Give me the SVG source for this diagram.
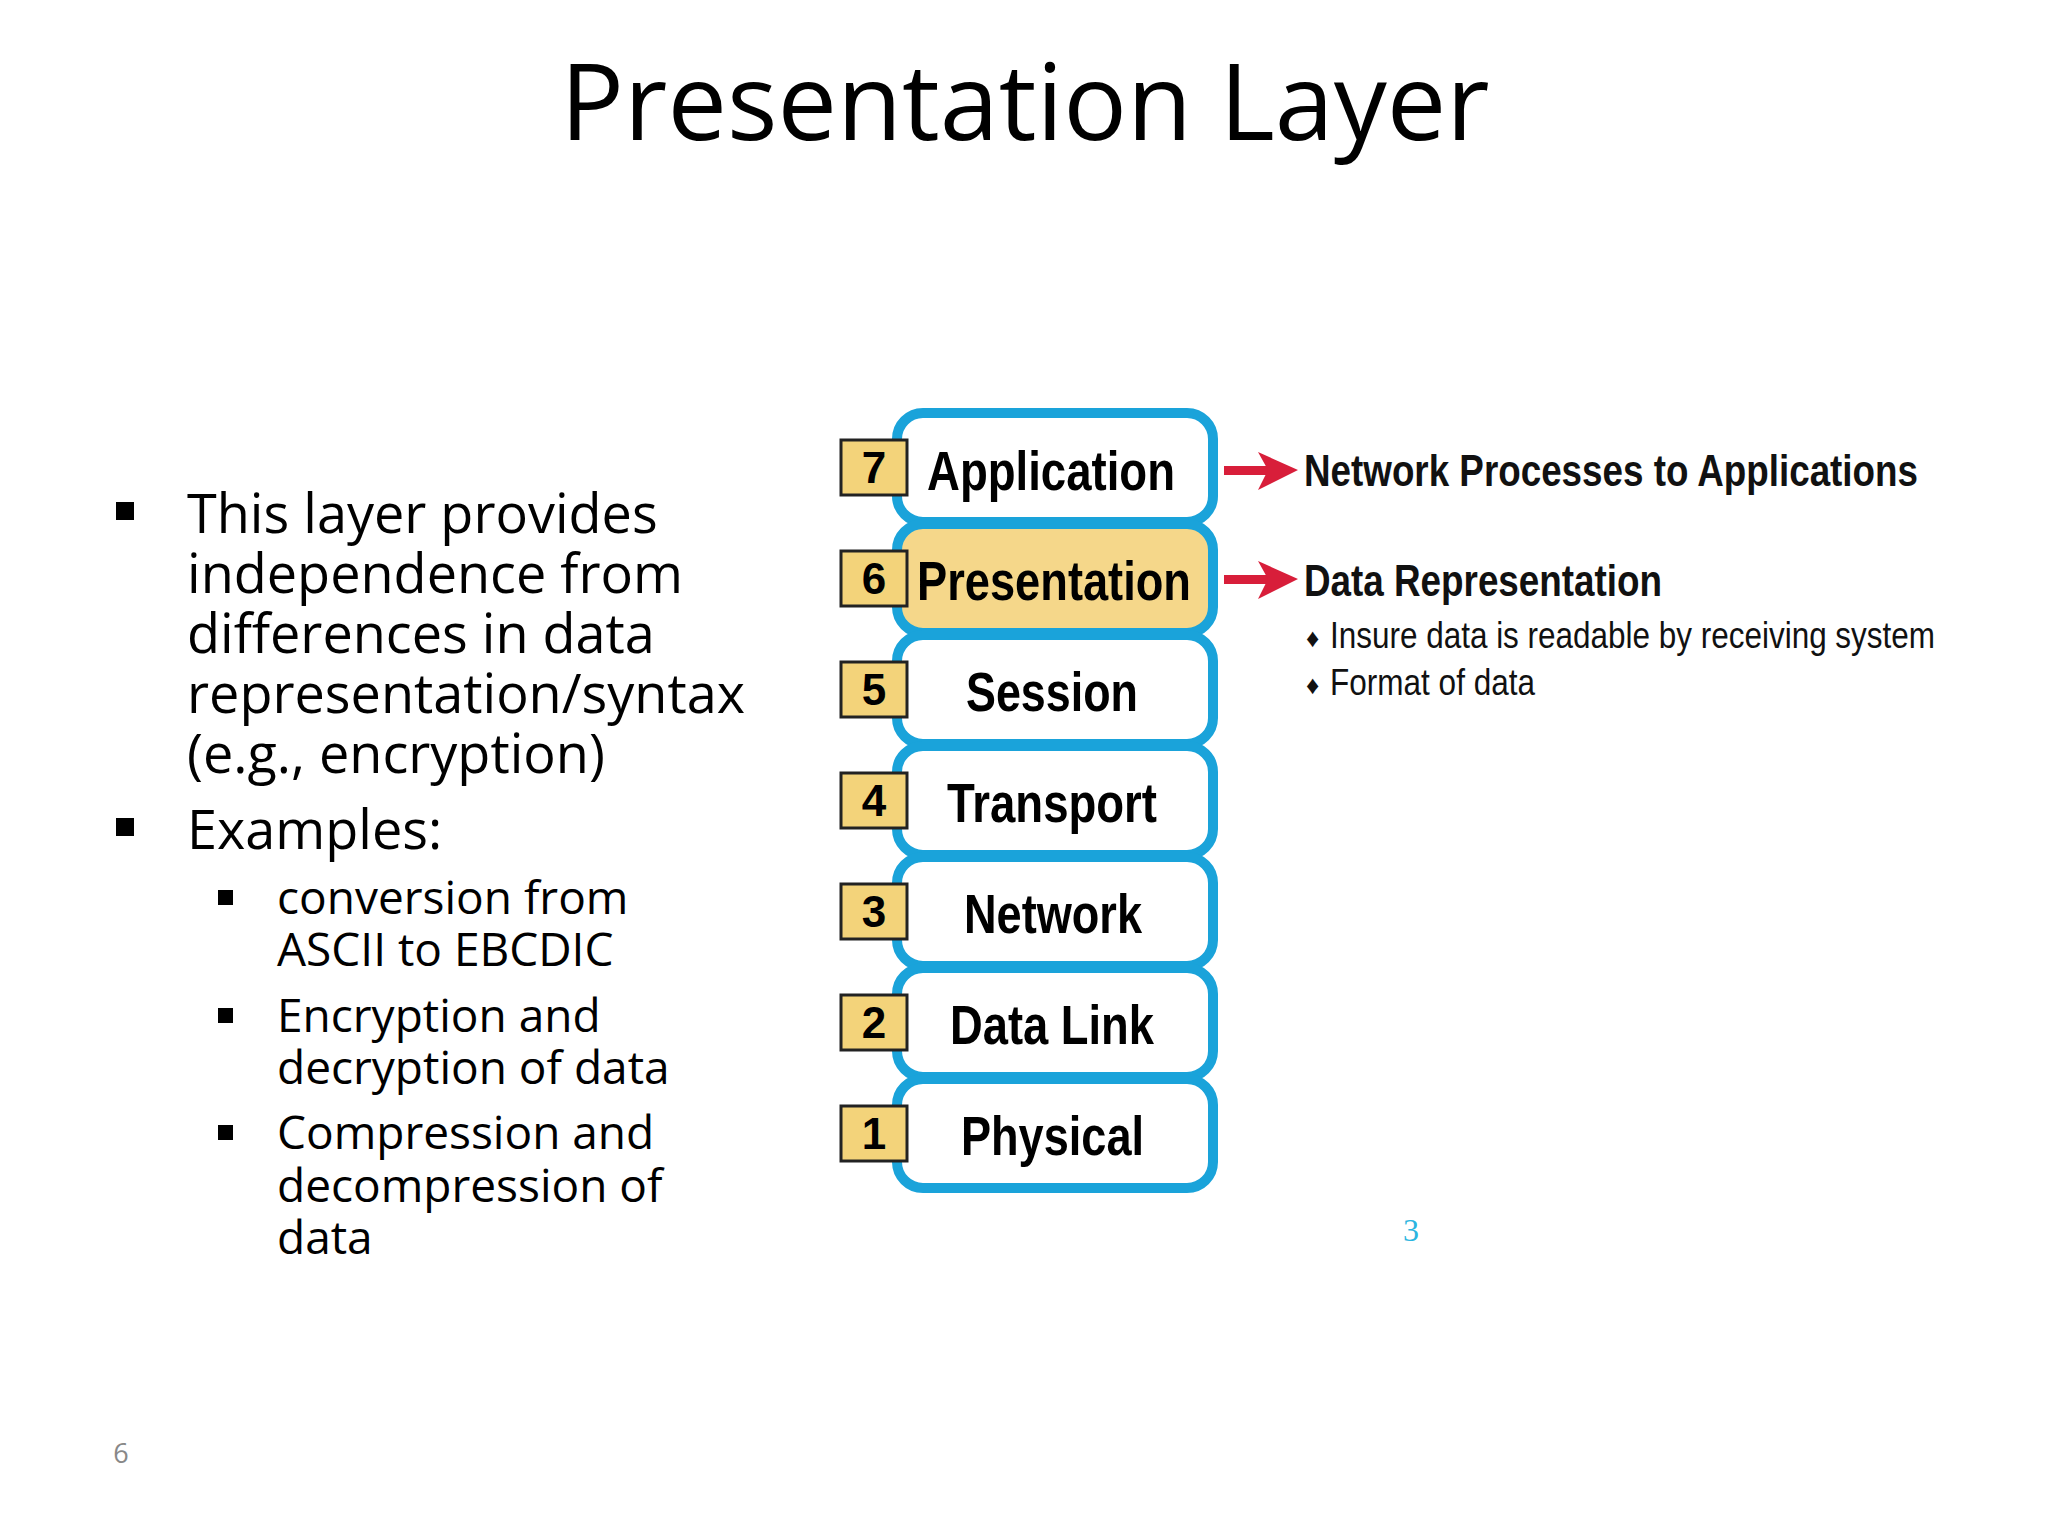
<svg xmlns="http://www.w3.org/2000/svg" width="2048" height="1536" viewBox="0 0 2048 1536">
<style>
.t{font-family:"Open Sans","Noto Sans","Liberation Sans",sans-serif;fill:#000}
.b{font-size:54px}
.s{font-size:46px}
.lay{fill:#fff;stroke:#1aa3da;stroke-width:10}
.num{fill:#f3d37a;stroke:#222;stroke-width:3}
.nt{font-family:"Liberation Sans",sans-serif;font-weight:bold;font-size:44px;text-anchor:middle;fill:#000}
.lt{font-family:"Liberation Sans",sans-serif;font-weight:bold;font-size:56px;fill:#000}
.rt{font-family:"Liberation Sans",sans-serif;fill:#111}
</style>
<rect width="2048" height="1536" fill="#fff"/>
<text x="1025" y="140" text-anchor="middle" class="t" font-size="106">Presentation Layer</text>
<g id="bullets">
<rect x="116" y="502" width="18" height="18"/>
<text class="t b" x="187" y="533">This layer provides</text>
<text class="t b" x="187" y="593">independence from</text>
<text class="t b" x="187" y="653">differences in data</text>
<text class="t b" x="187" y="713">representation/syntax</text>
<text class="t b" x="187" y="773">(e.g., encryption)</text>
<rect x="116" y="818" width="18" height="18"/>
<text class="t b" x="187" y="849">Examples:</text>
<rect x="218" y="890" width="15" height="15"/>
<text class="t s" x="277" y="914">conversion from</text>
<text class="t s" x="277" y="966">ASCII to EBCDIC</text>
<rect x="218" y="1008" width="15" height="15"/>
<text class="t s" x="277" y="1032">Encryption and</text>
<text class="t s" x="277" y="1084">decryption of data</text>
<rect x="218" y="1125" width="15" height="15"/>
<text class="t s" x="277" y="1149">Compression and</text>
<text class="t s" x="277" y="1202">decompression of</text>
<text class="t s" x="277" y="1254">data</text>
</g>
<g id="layer7"><rect class="lay" x="897" y="413" width="316" height="109" rx="26"/><rect class="num" x="841" y="440" width="66" height="55"/><text class="nt" x="874" y="483">7</text><text class="lt" x="927" y="490" textLength="248" lengthAdjust="spacingAndGlyphs">Application</text></g>
<g id="layer6"><rect class="lay" x="897" y="524" width="316" height="109" rx="26" style="fill:#f5d78a"/><rect class="num" x="841" y="551" width="66" height="55"/><text class="nt" x="874" y="594">6</text><text class="lt" x="917" y="600" textLength="274" lengthAdjust="spacingAndGlyphs">Presentation</text></g>
<g id="layer5"><rect class="lay" x="897" y="635" width="316" height="109" rx="26"/><rect class="num" x="841" y="662" width="66" height="55"/><text class="nt" x="874" y="705">5</text><text class="lt" x="966" y="711" textLength="172" lengthAdjust="spacingAndGlyphs">Session</text></g>
<g id="layer4"><rect class="lay" x="897" y="746" width="316" height="109" rx="26"/><rect class="num" x="841" y="773" width="66" height="55"/><text class="nt" x="874" y="816">4</text><text class="lt" x="947" y="822" textLength="210" lengthAdjust="spacingAndGlyphs">Transport</text></g>
<g id="layer3"><rect class="lay" x="897" y="857" width="316" height="109" rx="26"/><rect class="num" x="841" y="884" width="66" height="55"/><text class="nt" x="874" y="927">3</text><text class="lt" x="964" y="933" textLength="178" lengthAdjust="spacingAndGlyphs">Network</text></g>
<g id="layer2"><rect class="lay" x="897" y="968" width="316" height="109" rx="26"/><rect class="num" x="841" y="995" width="66" height="55"/><text class="nt" x="874" y="1038">2</text><text class="lt" x="950" y="1044" textLength="204" lengthAdjust="spacingAndGlyphs">Data Link</text></g>
<g id="layer1"><rect class="lay" x="897" y="1079" width="316" height="109" rx="26"/><rect class="num" x="841" y="1106" width="66" height="55"/><text class="nt" x="874" y="1149">1</text><text class="lt" x="961" y="1155" textLength="183" lengthAdjust="spacingAndGlyphs">Physical</text></g>
<g id="connectors" fill="#d81e3a">
<rect x="1224" y="466" width="50" height="9"/>
<polygon points="1258,452 1298,470 1258,490 1268,470"/>
<rect x="1224" y="575" width="50" height="9"/>
<polygon points="1258,561 1298,579 1258,599 1268,579"/>
</g>
<g id="desc">
<text class="rt" x="1304" y="486" font-size="44" font-weight="bold" textLength="614" lengthAdjust="spacingAndGlyphs">Network Processes to Applications</text>
<text class="rt" x="1304" y="596" font-size="44" font-weight="bold" textLength="358" lengthAdjust="spacingAndGlyphs">Data Representation</text>
<text class="rt" x="1306" y="647" font-size="26">♦</text>
<text class="rt" x="1330" y="648" font-size="37" textLength="605" lengthAdjust="spacingAndGlyphs">Insure data is readable by receiving system</text>
<text class="rt" x="1306" y="694" font-size="26">♦</text>
<text class="rt" x="1330" y="695" font-size="37" textLength="205" lengthAdjust="spacingAndGlyphs">Format of data</text>
</g>
<text x="1411" y="1241" text-anchor="middle" font-family="Liberation Serif,serif" font-size="32" fill="#2bb5e0">3</text>
<text x="121" y="1463" text-anchor="middle" font-family="Open Sans,sans-serif" font-size="27" fill="#888">6</text>
</svg>
